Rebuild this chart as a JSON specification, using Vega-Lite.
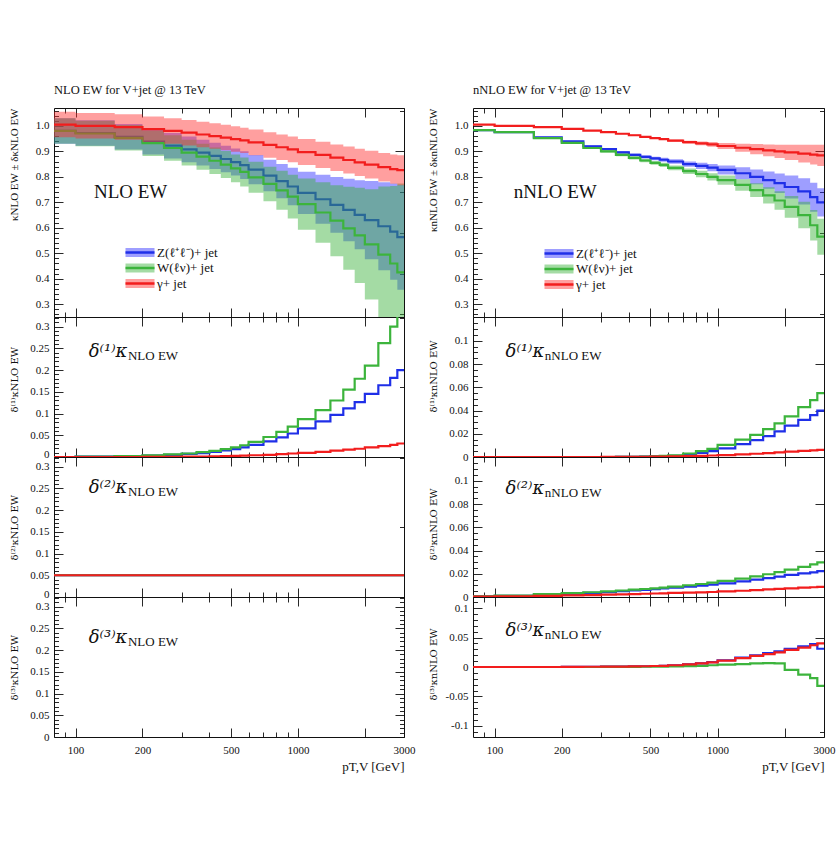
{
  "$schema": "https://vega.github.io/schema/vega-lite/v6.json",
  "background": "white",
  "padding": {"left": 7, "top": 83, "right": 5, "bottom": 5},
  "datasets": {
    "nlo": [
      {"p":"Z","x":80,"k":0.98,"lo":0.93,"hi":1.03,"d1":0,"d2":0.05},
      {"p":"Z","x":100,"k":0.972,"lo":0.922,"hi":1.022,"d1":0.001,"d2":0.05},
      {"p":"Z","x":150,"k":0.957,"lo":0.907,"hi":1.007,"d1":0.002,"d2":0.05},
      {"p":"Z","x":200,"k":0.938,"lo":0.888,"hi":0.988,"d1":0.003,"d2":0.05},
      {"p":"Z","x":250,"k":0.922,"lo":0.872,"hi":0.972,"d1":0.005,"d2":0.05},
      {"p":"Z","x":300,"k":0.908,"lo":0.8575,"hi":0.9585,"d1":0.007,"d2":0.05},
      {"p":"Z","x":350,"k":0.895,"lo":0.8442,"hi":0.9458,"d1":0.009,"d2":0.05},
      {"p":"Z","x":400,"k":0.882,"lo":0.8306,"hi":0.9334,"d1":0.012,"d2":0.05},
      {"p":"Z","x":450,"k":0.87,"lo":0.8178,"hi":0.9222,"d1":0.015,"d2":0.05},
      {"p":"Z","x":500,"k":0.858,"lo":0.8049,"hi":0.9111,"d1":0.018,"d2":0.05},
      {"p":"Z","x":550,"k":0.846,"lo":0.7914,"hi":0.9006,"d1":0.022,"d2":0.05},
      {"p":"Z","x":600,"k":0.828,"lo":0.7707,"hi":0.8853,"d1":0.028,"d2":0.05},
      {"p":"Z","x":700,"k":0.805,"lo":0.7434,"hi":0.8666,"d1":0.036,"d2":0.05},
      {"p":"Z","x":800,"k":0.783,"lo":0.7157,"hi":0.8503,"d1":0.045,"d2":0.05},
      {"p":"Z","x":900,"k":0.762,"lo":0.6884,"hi":0.8356,"d1":0.054,"d2":0.05},
      {"p":"Z","x":1000,"k":0.737,"lo":0.6542,"hi":0.8198,"d1":0.066,"d2":0.05},
      {"p":"Z","x":1200,"k":0.712,"lo":0.616,"hi":0.808,"d1":0.082,"d2":0.05},
      {"p":"Z","x":1400,"k":0.69,"lo":0.5809,"hi":0.7991,"d1":0.097,"d2":0.05},
      {"p":"Z","x":1600,"k":0.67,"lo":0.5473,"hi":0.7927,"d1":0.112,"d2":0.05},
      {"p":"Z","x":1800,"k":0.651,"lo":0.5154,"hi":0.7866,"d1":0.126,"d2":0.05},
      {"p":"Z","x":2000,"k":0.63,"lo":0.4766,"hi":0.7834,"d1":0.145,"d2":0.05},
      {"p":"Z","x":2300,"k":0.606,"lo":0.4336,"hi":0.7784,"d1":0.165,"d2":0.05},
      {"p":"Z","x":2600,"k":0.585,"lo":0.3963,"hi":0.7737,"d1":0.182,"d2":0.05},
      {"p":"Z","x":2800,"k":0.563,"lo":0.3568,"hi":0.7692,"d1":0.2,"d2":0.05},
      {"p":"Z","x":3000,"k":0.563,"lo":0.3568,"hi":0.7692,"d1":0.2,"d2":0.05},
      {"p":"W","x":80,"k":0.98,"lo":0.93,"hi":1.03,"d1":0,"d2":0.05},
      {"p":"W","x":100,"k":0.97,"lo":0.92,"hi":1.02,"d1":0.001,"d2":0.05},
      {"p":"W","x":150,"k":0.953,"lo":0.903,"hi":1.003,"d1":0.002,"d2":0.05},
      {"p":"W","x":200,"k":0.932,"lo":0.8818,"hi":0.9822,"d1":0.004,"d2":0.05},
      {"p":"W","x":250,"k":0.913,"lo":0.8626,"hi":0.9634,"d1":0.006,"d2":0.05},
      {"p":"W","x":300,"k":0.895,"lo":0.8444,"hi":0.9456,"d1":0.008,"d2":0.05},
      {"p":"W","x":350,"k":0.879,"lo":0.8278,"hi":0.9302,"d1":0.011,"d2":0.05},
      {"p":"W","x":400,"k":0.863,"lo":0.8111,"hi":0.9149,"d1":0.014,"d2":0.05},
      {"p":"W","x":450,"k":0.848,"lo":0.7949,"hi":0.9011,"d1":0.018,"d2":0.05},
      {"p":"W","x":500,"k":0.833,"lo":0.7784,"hi":0.8876,"d1":0.022,"d2":0.05},
      {"p":"W","x":550,"k":0.819,"lo":0.7622,"hi":0.8758,"d1":0.027,"d2":0.05},
      {"p":"W","x":600,"k":0.798,"lo":0.737,"hi":0.859,"d1":0.035,"d2":0.05},
      {"p":"W","x":700,"k":0.772,"lo":0.7041,"hi":0.8399,"d1":0.046,"d2":0.05},
      {"p":"W","x":800,"k":0.747,"lo":0.6704,"hi":0.8236,"d1":0.058,"d2":0.05},
      {"p":"W","x":900,"k":0.722,"lo":0.636,"hi":0.808,"d1":0.07,"d2":0.05},
      {"p":"W","x":1000,"k":0.693,"lo":0.5927,"hi":0.7933,"d1":0.087,"d2":0.05},
      {"p":"W","x":1200,"k":0.66,"lo":0.541,"hi":0.779,"d1":0.108,"d2":0.05},
      {"p":"W","x":1400,"k":0.628,"lo":0.4887,"hi":0.7673,"d1":0.13,"d2":0.05},
      {"p":"W","x":1600,"k":0.598,"lo":0.4351,"hi":0.7609,"d1":0.155,"d2":0.05},
      {"p":"W","x":1800,"k":0.57,"lo":0.3832,"hi":0.7568,"d1":0.18,"d2":0.05},
      {"p":"W","x":2000,"k":0.535,"lo":0.3191,"hi":0.7509,"d1":0.21,"d2":0.05},
      {"p":"W","x":2300,"k":0.495,"lo":0.2283,"hi":0.7617,"d1":0.262,"d2":0.05},
      {"p":"W","x":2600,"k":0.46,"lo":0.1559,"hi":0.7641,"d1":0.3,"d2":0.05},
      {"p":"W","x":2800,"k":0.425,"lo":0.0764,"hi":0.7736,"d1":0.345,"d2":0.05},
      {"p":"W","x":3000,"k":0.425,"lo":0.0764,"hi":0.7736,"d1":0.345,"d2":0.05},
      {"p":"γ","x":80,"k":1.005,"lo":0.955,"hi":1.055,"d1":0,"d2":0.05},
      {"p":"γ","x":100,"k":1.0,"lo":0.95,"hi":1.05,"d1":0,"d2":0.05},
      {"p":"γ","x":150,"k":0.995,"lo":0.945,"hi":1.045,"d1":0,"d2":0.05},
      {"p":"γ","x":200,"k":0.987,"lo":0.937,"hi":1.037,"d1":0.0003,"d2":0.05},
      {"p":"γ","x":250,"k":0.98,"lo":0.93,"hi":1.03,"d1":0.0005,"d2":0.05},
      {"p":"γ","x":300,"k":0.973,"lo":0.923,"hi":1.023,"d1":0.0008,"d2":0.05},
      {"p":"γ","x":350,"k":0.966,"lo":0.916,"hi":1.016,"d1":0.001,"d2":0.05},
      {"p":"γ","x":400,"k":0.96,"lo":0.91,"hi":1.01,"d1":0.0015,"d2":0.05},
      {"p":"γ","x":450,"k":0.954,"lo":0.904,"hi":1.004,"d1":0.002,"d2":0.05},
      {"p":"γ","x":500,"k":0.948,"lo":0.898,"hi":0.998,"d1":0.0025,"d2":0.05},
      {"p":"γ","x":550,"k":0.943,"lo":0.893,"hi":0.993,"d1":0.003,"d2":0.05},
      {"p":"γ","x":600,"k":0.935,"lo":0.8848,"hi":0.9852,"d1":0.004,"d2":0.05},
      {"p":"γ","x":700,"k":0.925,"lo":0.8748,"hi":0.9752,"d1":0.005,"d2":0.05},
      {"p":"γ","x":800,"k":0.916,"lo":0.8656,"hi":0.9664,"d1":0.0065,"d2":0.05},
      {"p":"γ","x":900,"k":0.908,"lo":0.8574,"hi":0.9586,"d1":0.008,"d2":0.05},
      {"p":"γ","x":1000,"k":0.897,"lo":0.8461,"hi":0.9479,"d1":0.0095,"d2":0.05},
      {"p":"γ","x":1200,"k":0.886,"lo":0.8346,"hi":0.9374,"d1":0.012,"d2":0.05},
      {"p":"γ","x":1400,"k":0.875,"lo":0.8229,"hi":0.9271,"d1":0.0145,"d2":0.05},
      {"p":"γ","x":1600,"k":0.866,"lo":0.8132,"hi":0.9188,"d1":0.017,"d2":0.05},
      {"p":"γ","x":1800,"k":0.857,"lo":0.8035,"hi":0.9105,"d1":0.019,"d2":0.05},
      {"p":"γ","x":2000,"k":0.848,"lo":0.7934,"hi":0.9026,"d1":0.022,"d2":0.05},
      {"p":"γ","x":2300,"k":0.838,"lo":0.7821,"hi":0.8939,"d1":0.025,"d2":0.05},
      {"p":"γ","x":2600,"k":0.83,"lo":0.7727,"hi":0.8873,"d1":0.028,"d2":0.05},
      {"p":"γ","x":2800,"k":0.826,"lo":0.7672,"hi":0.8848,"d1":0.031,"d2":0.05},
      {"p":"γ","x":3000,"k":0.826,"lo":0.7672,"hi":0.8848,"d1":0.031,"d2":0.05}
    ],
    "nnlo": [
      {"p":"Z","x":80,"k":0.983,"lo":0.9825,"hi":0.9835,"d1":0,"d2":0.0005,"d3":0},
      {"p":"Z","x":100,"k":0.975,"lo":0.974,"hi":0.976,"d1":0,"d2":0.001,"d3":0},
      {"p":"Z","x":150,"k":0.955,"lo":0.953,"hi":0.957,"d1":0,"d2":0.002,"d3":0},
      {"p":"Z","x":200,"k":0.939,"lo":0.9363,"hi":0.9417,"d1":0,"d2":0.0027,"d3":0.0002},
      {"p":"Z","x":250,"k":0.92,"lo":0.9165,"hi":0.9235,"d1":0,"d2":0.0035,"d3":0.0004},
      {"p":"Z","x":300,"k":0.909,"lo":0.9048,"hi":0.9132,"d1":0,"d2":0.0042,"d3":0.0006},
      {"p":"Z","x":350,"k":0.896,"lo":0.8909,"hi":0.9011,"d1":0.0001,"d2":0.005,"d3":0.0008},
      {"p":"Z","x":400,"k":0.886,"lo":0.8803,"hi":0.8917,"d1":0.0002,"d2":0.0056,"d3":0.001},
      {"p":"Z","x":450,"k":0.878,"lo":0.8716,"hi":0.8844,"d1":0.0003,"d2":0.0062,"d3":0.0013},
      {"p":"Z","x":500,"k":0.872,"lo":0.8649,"hi":0.8791,"d1":0.0005,"d2":0.0068,"d3":0.0017},
      {"p":"Z","x":550,"k":0.867,"lo":0.8594,"hi":0.8746,"d1":0.0007,"d2":0.0073,"d3":0.002},
      {"p":"Z","x":600,"k":0.86,"lo":0.8513,"hi":0.8687,"d1":0.001,"d2":0.0081,"d3":0.003},
      {"p":"Z","x":700,"k":0.85,"lo":0.8397,"hi":0.8603,"d1":0.002,"d2":0.009,"d3":0.0046},
      {"p":"Z","x":800,"k":0.843,"lo":0.8309,"hi":0.8551,"d1":0.0035,"d2":0.0098,"d3":0.0062},
      {"p":"Z","x":900,"k":0.836,"lo":0.8216,"hi":0.8504,"d1":0.005,"d2":0.0106,"d3":0.0083},
      {"p":"Z","x":1000,"k":0.827,"lo":0.8092,"hi":0.8448,"d1":0.0075,"d2":0.0118,"d3":0.0115},
      {"p":"Z","x":1200,"k":0.814,"lo":0.7905,"hi":0.8375,"d1":0.011,"d2":0.0134,"d3":0.016},
      {"p":"Z","x":1400,"k":0.8,"lo":0.7713,"hi":0.8287,"d1":0.0145,"d2":0.015,"d3":0.02},
      {"p":"Z","x":1600,"k":0.787,"lo":0.7533,"hi":0.8207,"d1":0.018,"d2":0.0163,"d3":0.0235},
      {"p":"Z","x":1800,"k":0.775,"lo":0.7365,"hi":0.8135,"d1":0.022,"d2":0.0176,"d3":0.0265},
      {"p":"Z","x":2000,"k":0.76,"lo":0.7147,"hi":0.8053,"d1":0.027,"d2":0.019,"d3":0.031},
      {"p":"Z","x":2300,"k":0.743,"lo":0.6914,"hi":0.7946,"d1":0.032,"d2":0.0203,"d3":0.035},
      {"p":"Z","x":2600,"k":0.72,"lo":0.6628,"hi":0.7772,"d1":0.036,"d2":0.0212,"d3":0.039},
      {"p":"Z","x":2800,"k":0.7,"lo":0.6447,"hi":0.7553,"d1":0.04,"d2":0.0222,"d3":0.031},
      {"p":"Z","x":3000,"k":0.7,"lo":0.6447,"hi":0.7553,"d1":0.04,"d2":0.0222,"d3":0.031},
      {"p":"W","x":80,"k":0.983,"lo":0.9824,"hi":0.9836,"d1":0,"d2":0.0006,"d3":0},
      {"p":"W","x":100,"k":0.975,"lo":0.9738,"hi":0.9762,"d1":0,"d2":0.0012,"d3":0},
      {"p":"W","x":150,"k":0.952,"lo":0.9496,"hi":0.9544,"d1":0,"d2":0.0024,"d3":0},
      {"p":"W","x":200,"k":0.933,"lo":0.9297,"hi":0.9363,"d1":0,"d2":0.0033,"d3":0},
      {"p":"W","x":250,"k":0.913,"lo":0.9089,"hi":0.9171,"d1":0,"d2":0.0041,"d3":0},
      {"p":"W","x":300,"k":0.9,"lo":0.8951,"hi":0.9049,"d1":0,"d2":0.0049,"d3":0.0001},
      {"p":"W","x":350,"k":0.886,"lo":0.8804,"hi":0.8916,"d1":0.0001,"d2":0.0056,"d3":0.0002},
      {"p":"W","x":400,"k":0.874,"lo":0.8677,"hi":0.8803,"d1":0.0002,"d2":0.0063,"d3":0.0003},
      {"p":"W","x":450,"k":0.864,"lo":0.8571,"hi":0.8709,"d1":0.0004,"d2":0.0069,"d3":0.0004},
      {"p":"W","x":500,"k":0.855,"lo":0.8475,"hi":0.8625,"d1":0.0006,"d2":0.0075,"d3":0.0005},
      {"p":"W","x":550,"k":0.847,"lo":0.8388,"hi":0.8552,"d1":0.001,"d2":0.0081,"d3":0.0007},
      {"p":"W","x":600,"k":0.835,"lo":0.8258,"hi":0.8442,"d1":0.0015,"d2":0.009,"d3":0.001},
      {"p":"W","x":700,"k":0.822,"lo":0.8113,"hi":0.8327,"d1":0.003,"d2":0.0101,"d3":0.0015},
      {"p":"W","x":800,"k":0.811,"lo":0.7986,"hi":0.8234,"d1":0.005,"d2":0.0112,"d3":0.002},
      {"p":"W","x":900,"k":0.8,"lo":0.7856,"hi":0.8144,"d1":0.007,"d2":0.0123,"d3":0.003},
      {"p":"W","x":1000,"k":0.787,"lo":0.7692,"hi":0.8048,"d1":0.0105,"d2":0.0138,"d3":0.004},
      {"p":"W","x":1200,"k":0.768,"lo":0.7456,"hi":0.7904,"d1":0.015,"d2":0.0158,"d3":0.005},
      {"p":"W","x":1400,"k":0.748,"lo":0.7213,"hi":0.7747,"d1":0.019,"d2":0.0178,"d3":0.006},
      {"p":"W","x":1600,"k":0.727,"lo":0.6953,"hi":0.7587,"d1":0.024,"d2":0.0196,"d3":0.0065},
      {"p":"W","x":1800,"k":0.707,"lo":0.6705,"hi":0.7435,"d1":0.029,"d2":0.0214,"d3":0.006},
      {"p":"W","x":2000,"k":0.682,"lo":0.6395,"hi":0.7245,"d1":0.035,"d2":0.0236,"d3":-0.005},
      {"p":"W","x":2300,"k":0.65,"lo":0.5981,"hi":0.7019,"d1":0.043,"d2":0.026,"d3":-0.013},
      {"p":"W","x":2600,"k":0.61,"lo":0.5505,"hi":0.6695,"d1":0.049,"d2":0.028,"d3":-0.019},
      {"p":"W","x":2800,"k":0.565,"lo":0.4947,"hi":0.6353,"d1":0.055,"d2":0.0298,"d3":-0.032},
      {"p":"W","x":3000,"k":0.565,"lo":0.4947,"hi":0.6353,"d1":0.055,"d2":0.0298,"d3":-0.032},
      {"p":"γ","x":80,"k":1.005,"lo":1.0047,"hi":1.0053,"d1":0,"d2":0.0003,"d3":0},
      {"p":"γ","x":100,"k":1.0,"lo":0.9994,"hi":1.0006,"d1":0,"d2":0.0006,"d3":0},
      {"p":"γ","x":150,"k":0.995,"lo":0.994,"hi":0.996,"d1":0,"d2":0.001,"d3":0},
      {"p":"γ","x":200,"k":0.988,"lo":0.9866,"hi":0.9894,"d1":0,"d2":0.0014,"d3":0.0002},
      {"p":"γ","x":250,"k":0.981,"lo":0.9793,"hi":0.9827,"d1":0,"d2":0.0017,"d3":0.0004},
      {"p":"γ","x":300,"k":0.975,"lo":0.9729,"hi":0.9771,"d1":0.0001,"d2":0.002,"d3":0.0006},
      {"p":"γ","x":350,"k":0.969,"lo":0.9666,"hi":0.9714,"d1":0.0001,"d2":0.0023,"d3":0.0008},
      {"p":"γ","x":400,"k":0.963,"lo":0.9603,"hi":0.9657,"d1":0.0002,"d2":0.0025,"d3":0.001},
      {"p":"γ","x":450,"k":0.957,"lo":0.9539,"hi":0.9601,"d1":0.0002,"d2":0.0028,"d3":0.0013},
      {"p":"γ","x":500,"k":0.952,"lo":0.9485,"hi":0.9555,"d1":0.0003,"d2":0.003,"d3":0.0017},
      {"p":"γ","x":550,"k":0.948,"lo":0.9442,"hi":0.9518,"d1":0.0004,"d2":0.0032,"d3":0.002},
      {"p":"γ","x":600,"k":0.942,"lo":0.9374,"hi":0.9466,"d1":0.0006,"d2":0.0035,"d3":0.003},
      {"p":"γ","x":700,"k":0.936,"lo":0.9301,"hi":0.9419,"d1":0.0008,"d2":0.0038,"d3":0.0045},
      {"p":"γ","x":800,"k":0.931,"lo":0.9237,"hi":0.9383,"d1":0.001,"d2":0.004,"d3":0.006},
      {"p":"γ","x":900,"k":0.927,"lo":0.9178,"hi":0.9362,"d1":0.0013,"d2":0.0043,"d3":0.008},
      {"p":"γ","x":1000,"k":0.921,"lo":0.9089,"hi":0.9331,"d1":0.0017,"d2":0.0048,"d3":0.011},
      {"p":"γ","x":1200,"k":0.914,"lo":0.8979,"hi":0.9301,"d1":0.0022,"d2":0.0054,"d3":0.015},
      {"p":"γ","x":1400,"k":0.909,"lo":0.8889,"hi":0.9291,"d1":0.0028,"d2":0.006,"d3":0.019},
      {"p":"γ","x":1600,"k":0.904,"lo":0.8808,"hi":0.9272,"d1":0.0034,"d2":0.0065,"d3":0.022},
      {"p":"γ","x":1800,"k":0.9,"lo":0.8737,"hi":0.9263,"d1":0.004,"d2":0.007,"d3":0.025},
      {"p":"γ","x":2000,"k":0.896,"lo":0.8657,"hi":0.9263,"d1":0.0046,"d2":0.0075,"d3":0.029},
      {"p":"γ","x":2300,"k":0.891,"lo":0.8566,"hi":0.9254,"d1":0.0052,"d2":0.008,"d3":0.033},
      {"p":"γ","x":2600,"k":0.887,"lo":0.8486,"hi":0.9254,"d1":0.0057,"d2":0.0084,"d3":0.037},
      {"p":"γ","x":2800,"k":0.884,"lo":0.8426,"hi":0.9254,"d1":0.0062,"d2":0.0088,"d3":0.04},
      {"p":"γ","x":3000,"k":0.884,"lo":0.8426,"hi":0.9254,"d1":0.0062,"d2":0.0088,"d3":0.04}
    ]
  },
  "spacing": 10,
  "resolve": {"scale": {"x": "independent", "y": "independent", "fill": "independent", "stroke": "independent"}},
  "hconcat": [
    {
      "spacing": 0,
      "bounds": "flush",
      "resolve": {"scale": {"x": "independent", "y": "independent", "fill": "independent", "stroke": "independent"}},
      "vconcat": [
        {
          "width": 350, "height": 209,
          "title": {"text": "NLO EW for V+jet @ 13 TeV", "anchor": "start", "frame": "group", "offset": 8},
          "resolve": {"axis": {"x": "independent", "y": "independent"}},
          "layer": [
            {
              "data": {"name": "nlo"},
              "layer": [
                {"transform": [{"filter": {"field": "p", "equal": "Z"}}],
                 "mark": {"type": "area", "interpolate": "step-after", "opacity": 0.45, "clip": true},
                 "encoding": {
                   "x": {"field": "x", "type": "quantitative", "scale": {"type": "log", "domain": [80, 3000], "nice": false},
                         "axis": {"orient": "top", "values": [90,100,200,300,400,500,600,700,800,900,1000,2000,3000], "tickSize": {"condition": {"test": "indexof([100,200,500,1000,2000,3000],datum.value)>=0", "value": -9}, "value": -5}, "labels": false, "title": null}},
                   "y": {"field": "lo", "type": "quantitative", "scale": {"domain": [0.25, 1.07], "nice": false, "zero": false},
                         "axis": {"orient": "right", "values": [0.26,0.28,0.3,0.32,0.34,0.36,0.38,0.4,0.42,0.44,0.46,0.48,0.5,0.52,0.54,0.56,0.58,0.6,0.62,0.64,0.66,0.68,0.7,0.72,0.74,0.76,0.78,0.8,0.82,0.84,0.86,0.88,0.9,0.92,0.94,0.96,0.98,1,1.02,1.04,1.06],
                                  "tickSize": {"condition": {"test": "abs(datum.value*10-round(datum.value*10))<0.001", "value": -9}, "value": -4.5}, "labels": false, "title": null}},
                   "y2": {"field": "hi"},
                   "fill": {"field": "p", "type": "nominal", "scale": {"range": ["#35b035", "#2828ff", "#ff2a2a"]},
                            "legend": {"orient": "none", "legendX": 70, "legendY": 138, "title": null, "values": ["Z", "W", "γ"], "symbolType": "M-1,-0.9H4.8V0.9H-1Z", "symbolSize": 100, "symbolStrokeWidth": 0, "labelOffset": 20, "labelFontSize": 13, "rowPadding": 1.5, "padding": 0,
                                       "labelExpr": "datum.label == 'Z' ? 'Z(ℓ⁺ℓ⁻)+ jet' : datum.label == 'W' ? 'W(ℓν)+ jet' : 'γ+ jet'"}}
                 }},
                {"transform": [{"filter": "datum.p == 'Z'"}],
                 "mark": {"type": "line", "interpolate": "step-after", "strokeWidth": 2.2, "clip": true},
                 "encoding": {
                   "x": {"field": "x", "type": "quantitative", "scale": {"type": "log", "domain": [80, 3000], "nice": false}},
                   "y": {"field": "k", "type": "quantitative", "scale": {"domain": [0.25, 1.07], "nice": false, "zero": false}},
                   "stroke": {"field": "p", "type": "nominal", "scale": {"range": ["#3cb43c", "#1f2fe8", "#f21d1d"]},
                              "legend": {"orient": "none", "legendX": 70, "legendY": 138, "title": null, "values": ["Z", "W", "γ"], "symbolType": "M-1,0H4.8", "symbolSize": 100, "symbolStrokeWidth": 2.5, "labelOffset": 20, "labelFontSize": 13, "rowPadding": 1.5, "padding": 0, "labelExpr": "''"}}
                 }},
                {"transform": [{"filter": {"field": "p", "equal": "W"}}],
                 "mark": {"type": "area", "interpolate": "step-after", "opacity": 0.45, "clip": true},
                 "encoding": {
                   "x": {"field": "x", "type": "quantitative", "scale": {"type": "log", "domain": [80, 3000], "nice": false}},
                   "y": {"field": "lo", "type": "quantitative", "scale": {"domain": [0.25, 1.07], "nice": false, "zero": false}},
                   "y2": {"field": "hi"},
                   "fill": {"field": "p", "type": "nominal"}
                 }},
                {"transform": [{"filter": "datum.p == 'W'"}],
                 "mark": {"type": "line", "interpolate": "step-after", "strokeWidth": 2.2, "clip": true},
                 "encoding": {
                   "x": {"field": "x", "type": "quantitative", "scale": {"type": "log", "domain": [80, 3000], "nice": false}},
                   "y": {"field": "k", "type": "quantitative", "scale": {"domain": [0.25, 1.07], "nice": false, "zero": false}},
                   "stroke": {"field": "p", "type": "nominal"}
                 }},
                {"transform": [{"filter": {"field": "p", "equal": "γ"}}],
                 "mark": {"type": "area", "interpolate": "step-after", "opacity": 0.45, "clip": true},
                 "encoding": {
                   "x": {"field": "x", "type": "quantitative", "scale": {"type": "log", "domain": [80, 3000], "nice": false}},
                   "y": {"field": "lo", "type": "quantitative", "scale": {"domain": [0.25, 1.07], "nice": false, "zero": false}},
                   "y2": {"field": "hi"},
                   "fill": {"field": "p", "type": "nominal"}
                 }},
                {"transform": [{"filter": "datum.p == 'γ'"}],
                 "mark": {"type": "line", "interpolate": "step-after", "strokeWidth": 2.2, "clip": true},
                 "encoding": {
                   "x": {"field": "x", "type": "quantitative", "scale": {"type": "log", "domain": [80, 3000], "nice": false}},
                   "y": {"field": "k", "type": "quantitative", "scale": {"domain": [0.25, 1.07], "nice": false, "zero": false}},
                   "stroke": {"field": "p", "type": "nominal"}
                 }}
              ]
            },
            {
              "data": {"values": [{}]},
              "mark": {"type": "text", "align": "left", "baseline": "alphabetic", "fontSize": 19},
              "encoding": {
                "x": {"datum": 121, "type": "quantitative", "scale": {"type": "log", "domain": [80, 3000], "nice": false},
                      "axis": {"orient": "bottom", "values": [90,100,200,300,400,500,600,700,800,900,1000,2000,3000], "tickSize": {"condition": {"test": "indexof([100,200,500,1000,2000,3000],datum.value)>=0", "value": -9}, "value": -5}, "labels": false, "title": null}},
                "y": {"datum": 0.716, "type": "quantitative", "scale": {"domain": [0.25, 1.07], "nice": false, "zero": false},
                      "axis": {"orient": "left", "values": [0.26,0.28,0.3,0.32,0.34,0.36,0.38,0.4,0.42,0.44,0.46,0.48,0.5,0.52,0.54,0.56,0.58,0.6,0.62,0.64,0.66,0.68,0.7,0.72,0.74,0.76,0.78,0.8,0.82,0.84,0.86,0.88,0.9,0.92,0.94,0.96,0.98,1,1.02,1.04,1.06],
                               "tickSize": {"condition": {"test": "abs(datum.value*10-round(datum.value*10))<0.001", "value": -9}, "value": -4.5},
                               "format": ".1f", "labelExpr": "abs(datum.value*10-round(datum.value*10))<0.001 ? datum.label : ''", "labelOverlap": false,
                               "labelPadding": 14, "title": "κNLO EW ± δκNLO EW", "titleAnchor": "end", "titleFontSize": 11, "titleX": -35, "titleBaseline": "bottom"}},
                "text": {"value": "NLO EW"}
              }
            }
          ]
        },
        {
          "width": 350, "height": 140,
          "resolve": {"axis": {"x": "independent", "y": "independent"}},
          "layer": [
            {
              "data": {"name": "nlo"},
              "layer": [
                {"transform": [{"filter": "datum.p == 'Z'"}],
                 "mark": {"type": "line", "interpolate": "step-after", "strokeWidth": 2.2, "clip": true},
                 "encoding": {
                   "x": {"field": "x", "type": "quantitative", "scale": {"type": "log", "domain": [80, 3000], "nice": false},
                         "axis": {"orient": "top", "values": [90,100,200,300,400,500,600,700,800,900,1000,2000,3000], "tickSize": {"condition": {"test": "indexof([100,200,500,1000,2000,3000],datum.value)>=0", "value": -9}, "value": -5}, "labels": false, "title": null}},
                   "y": {"field": "d1", "type": "quantitative", "scale": {"domain": [0, 0.322], "nice": false, "zero": false},
                         "axis": {"orient": "right", "values": [0,0.01,0.02,0.03,0.04,0.05,0.06,0.07,0.08,0.09,0.1,0.11,0.12,0.13,0.14,0.15,0.16,0.17,0.18,0.19,0.2,0.21,0.22,0.23,0.24,0.25,0.26,0.27,0.28,0.29,0.3,0.31,0.32],
                                  "tickSize": {"condition": {"test": "abs(datum.value*20-round(datum.value*20))<0.001", "value": -9}, "value": -4.5}, "labels": false, "title": null}},
                   "stroke": {"field": "p", "type": "nominal", "scale": {"range": ["#3cb43c", "#1f2fe8", "#f21d1d"]}, "legend": null}
                 }},
                {"transform": [{"filter": "datum.p == 'W'"}],
                 "mark": {"type": "line", "interpolate": "step-after", "strokeWidth": 2.2, "clip": true},
                 "encoding": {
                   "x": {"field": "x", "type": "quantitative", "scale": {"type": "log", "domain": [80, 3000], "nice": false}},
                   "y": {"field": "d1", "type": "quantitative", "scale": {"domain": [0, 0.322], "nice": false, "zero": false}},
                   "stroke": {"field": "p", "type": "nominal", "legend": null}
                 }},
                {"transform": [{"filter": "datum.p == 'γ'"}],
                 "mark": {"type": "line", "interpolate": "step-after", "strokeWidth": 2.2, "clip": true},
                 "encoding": {
                   "x": {"field": "x", "type": "quantitative", "scale": {"type": "log", "domain": [80, 3000], "nice": false}},
                   "y": {"field": "d1", "type": "quantitative", "scale": {"domain": [0, 0.322], "nice": false, "zero": false}},
                   "stroke": {"field": "p", "type": "nominal", "legend": null}
                 }}
              ]
            },
            {"data": {"values": [{}]},
             "mark": {"type": "text", "align": "right", "baseline": "alphabetic", "fontSize": 18, "fontStyle": "italic", "font": "DejaVu Serif"},
             "encoding": {
               "x": {"datum": 171, "type": "quantitative", "scale": {"type": "log", "domain": [80, 3000], "nice": false},
                     "axis": {"orient": "bottom", "values": [90,100,200,300,400,500,600,700,800,900,1000,2000,3000], "tickSize": {"condition": {"test": "indexof([100,200,500,1000,2000,3000],datum.value)>=0", "value": -9}, "value": -5}, "labels": false, "title": null}},
               "y": {"datum": 0.231, "type": "quantitative", "scale": {"domain": [0, 0.322], "nice": false, "zero": false},
                     "axis": {"orient": "left", "values": [0,0.01,0.02,0.03,0.04,0.05,0.06,0.07,0.08,0.09,0.1,0.11,0.12,0.13,0.14,0.15,0.16,0.17,0.18,0.19,0.2,0.21,0.22,0.23,0.24,0.25,0.26,0.27,0.28,0.29,0.3,0.31,0.32],
                              "tickSize": {"condition": {"test": "abs(datum.value*20-round(datum.value*20))<0.001", "value": -9}, "value": -4.5},
                              "labelOffset": {"condition": {"test": "datum.value == 0", "value": -3}, "value": 0},
                              "format": "~g", "labelExpr": "abs(datum.value*20-round(datum.value*20))<0.001 ? datum.label : ''", "labelOverlap": false,
                              "labelPadding": 14, "title": "δ⁽¹⁾κNLO EW", "titleFont": "DejaVu Serif", "titleFontSize": 10, "titleX": -35, "titleY": 95, "titleAlign": "left", "titleBaseline": "bottom"}},
               "text": {"value": "δ⁽¹⁾κ"}
             }},
            {"data": {"values": [{}]},
             "mark": {"type": "text", "align": "left", "baseline": "alphabetic", "fontSize": 13, "dy": 3},
             "encoding": {
               "x": {"datum": 172, "type": "quantitative", "scale": {"type": "log", "domain": [80, 3000], "nice": false}, "axis": null},
               "y": {"datum": 0.231, "type": "quantitative", "scale": {"domain": [0, 0.322], "nice": false, "zero": false}, "axis": null},
               "text": {"value": "NLO EW"}
             }}
          ]
        },
        {
          "width": 350, "height": 140,
          "resolve": {"axis": {"x": "independent", "y": "independent"}},
          "layer": [
            {
              "data": {"name": "nlo"},
              "layer": [
                {"transform": [{"filter": "datum.p == 'Z'"}],
                 "mark": {"type": "line", "interpolate": "step-after", "strokeWidth": 2.2, "clip": true},
                 "encoding": {
                   "x": {"field": "x", "type": "quantitative", "scale": {"type": "log", "domain": [80, 3000], "nice": false},
                         "axis": {"orient": "top", "values": [90,100,200,300,400,500,600,700,800,900,1000,2000,3000], "tickSize": {"condition": {"test": "indexof([100,200,500,1000,2000,3000],datum.value)>=0", "value": -9}, "value": -5}, "labels": false, "title": null}},
                   "y": {"field": "d2", "type": "quantitative", "scale": {"domain": [0, 0.322], "nice": false, "zero": false},
                         "axis": {"orient": "right", "values": [0,0.01,0.02,0.03,0.04,0.05,0.06,0.07,0.08,0.09,0.1,0.11,0.12,0.13,0.14,0.15,0.16,0.17,0.18,0.19,0.2,0.21,0.22,0.23,0.24,0.25,0.26,0.27,0.28,0.29,0.3,0.31,0.32],
                                  "tickSize": {"condition": {"test": "abs(datum.value*20-round(datum.value*20))<0.001", "value": -9}, "value": -4.5}, "labels": false, "title": null}},
                   "stroke": {"field": "p", "type": "nominal", "scale": {"range": ["#3cb43c", "#1f2fe8", "#f21d1d"]}, "legend": null}
                 }},
                {"transform": [{"filter": "datum.p == 'W'"}],
                 "mark": {"type": "line", "interpolate": "step-after", "strokeWidth": 2.2, "clip": true},
                 "encoding": {
                   "x": {"field": "x", "type": "quantitative", "scale": {"type": "log", "domain": [80, 3000], "nice": false}},
                   "y": {"field": "d2", "type": "quantitative", "scale": {"domain": [0, 0.322], "nice": false, "zero": false}},
                   "stroke": {"field": "p", "type": "nominal", "legend": null}
                 }},
                {"transform": [{"filter": "datum.p == 'γ'"}],
                 "mark": {"type": "line", "interpolate": "step-after", "strokeWidth": 2.2, "clip": true},
                 "encoding": {
                   "x": {"field": "x", "type": "quantitative", "scale": {"type": "log", "domain": [80, 3000], "nice": false}},
                   "y": {"field": "d2", "type": "quantitative", "scale": {"domain": [0, 0.322], "nice": false, "zero": false}},
                   "stroke": {"field": "p", "type": "nominal", "legend": null}
                 }}
              ]
            },
            {"data": {"values": [{}]},
             "mark": {"type": "text", "align": "right", "baseline": "alphabetic", "fontSize": 18, "fontStyle": "italic", "font": "DejaVu Serif"},
             "encoding": {
               "x": {"datum": 171, "type": "quantitative", "scale": {"type": "log", "domain": [80, 3000], "nice": false},
                     "axis": {"orient": "bottom", "values": [90,100,200,300,400,500,600,700,800,900,1000,2000,3000], "tickSize": {"condition": {"test": "indexof([100,200,500,1000,2000,3000],datum.value)>=0", "value": -9}, "value": -5}, "labels": false, "title": null}},
               "y": {"datum": 0.239, "type": "quantitative", "scale": {"domain": [0, 0.322], "nice": false, "zero": false},
                     "axis": {"orient": "left", "values": [0,0.01,0.02,0.03,0.04,0.05,0.06,0.07,0.08,0.09,0.1,0.11,0.12,0.13,0.14,0.15,0.16,0.17,0.18,0.19,0.2,0.21,0.22,0.23,0.24,0.25,0.26,0.27,0.28,0.29,0.3,0.31,0.32],
                              "tickSize": {"condition": {"test": "abs(datum.value*20-round(datum.value*20))<0.001", "value": -9}, "value": -4.5},
                              "labelOffset": {"condition": {"test": "datum.value == 0", "value": -3}, "value": 0},
                              "format": "~g", "labelExpr": "abs(datum.value*20-round(datum.value*20))<0.001 ? datum.label : ''", "labelOverlap": false,
                              "labelPadding": 14, "title": "δ⁽²⁾κNLO EW", "titleFont": "DejaVu Serif", "titleFontSize": 10, "titleX": -35, "titleY": 103, "titleAlign": "left", "titleBaseline": "bottom"}},
               "text": {"value": "δ⁽²⁾κ"}
             }},
            {"data": {"values": [{}]},
             "mark": {"type": "text", "align": "left", "baseline": "alphabetic", "fontSize": 13, "dy": 3},
             "encoding": {
               "x": {"datum": 172, "type": "quantitative", "scale": {"type": "log", "domain": [80, 3000], "nice": false}, "axis": null},
               "y": {"datum": 0.239, "type": "quantitative", "scale": {"domain": [0, 0.322], "nice": false, "zero": false}, "axis": null},
               "text": {"value": "NLO EW"}
             }}
          ]
        },
        {
          "width": 350, "height": 140,
          "resolve": {"axis": {"x": "independent", "y": "independent"}},
          "data": {"values": [{}]},
          "layer": [
            {"mark": {"type": "text", "align": "right", "baseline": "alphabetic", "fontSize": 18, "fontStyle": "italic", "font": "DejaVu Serif"},
             "encoding": {
               "x": {"datum": 171, "type": "quantitative", "scale": {"type": "log", "domain": [80, 3000], "nice": false},
                     "axis": {"orient": "bottom", "values": [90,100,200,300,400,500,600,700,800,900,1000,2000,3000], "tickSize": {"condition": {"test": "indexof([100,200,500,1000,2000,3000],datum.value)>=0", "value": -9}, "value": -5},
                              "format": "d", "labelExpr": "indexof([100,200,500,1000,3000],datum.value)>=0 ? datum.label : ''", "labelOverlap": false, "labelPadding": 16,
                              "title": "pT,V [GeV]", "titleAnchor": "end", "titleFontSize": 13, "titlePadding": 1}},
               "y": {"datum": 0.216, "type": "quantitative", "scale": {"domain": [0, 0.322], "nice": false, "zero": false},
                     "axis": {"orient": "left", "values": [0,0.01,0.02,0.03,0.04,0.05,0.06,0.07,0.08,0.09,0.1,0.11,0.12,0.13,0.14,0.15,0.16,0.17,0.18,0.19,0.2,0.21,0.22,0.23,0.24,0.25,0.26,0.27,0.28,0.29,0.3,0.31,0.32],
                              "tickSize": {"condition": {"test": "abs(datum.value*20-round(datum.value*20))<0.001", "value": -9}, "value": -4.5},
                              "format": "~g", "labelExpr": "abs(datum.value*20-round(datum.value*20))<0.001 ? datum.label : ''", "labelOverlap": false,
                              "labelPadding": 14, "title": "δ⁽³⁾κNLO EW", "titleFont": "DejaVu Serif", "titleFontSize": 10, "titleX": -35, "titleY": 103, "titleAlign": "left", "titleBaseline": "bottom"}},
               "text": {"value": "δ⁽³⁾κ"}
             }},
            {"mark": {"type": "text", "align": "left", "baseline": "alphabetic", "fontSize": 13, "dy": 3},
             "encoding": {
               "x": {"datum": 172, "type": "quantitative", "scale": {"type": "log", "domain": [80, 3000], "nice": false},
                     "axis": {"orient": "top", "values": [90,100,200,300,400,500,600,700,800,900,1000,2000,3000], "tickSize": {"condition": {"test": "indexof([100,200,500,1000,2000,3000],datum.value)>=0", "value": -9}, "value": -5}, "labels": false, "title": null}},
               "y": {"datum": 0.216, "type": "quantitative", "scale": {"domain": [0, 0.322], "nice": false, "zero": false},
                     "axis": {"orient": "right", "values": [0,0.01,0.02,0.03,0.04,0.05,0.06,0.07,0.08,0.09,0.1,0.11,0.12,0.13,0.14,0.15,0.16,0.17,0.18,0.19,0.2,0.21,0.22,0.23,0.24,0.25,0.26,0.27,0.28,0.29,0.3,0.31,0.32],
                              "tickSize": {"condition": {"test": "abs(datum.value*20-round(datum.value*20))<0.001", "value": -9}, "value": -4.5}, "labels": false, "title": null}},
               "text": {"value": "NLO EW"}
             }}
          ]
        }
      ]
    },
    {
      "spacing": 0,
      "bounds": "flush",
      "resolve": {"scale": {"x": "independent", "y": "independent", "fill": "independent", "stroke": "independent"}},
      "vconcat": [
        {
          "width": 351, "height": 209,
          "title": {"text": "nNLO EW for V+jet @ 13 TeV", "anchor": "start", "frame": "group", "offset": 8},
          "resolve": {"axis": {"x": "independent", "y": "independent"}},
          "layer": [
            {
              "data": {"name": "nnlo"},
              "layer": [
                {"transform": [{"filter": {"field": "p", "equal": "Z"}}],
                 "mark": {"type": "area", "interpolate": "step-after", "opacity": 0.45, "clip": true},
                 "encoding": {
                   "x": {"field": "x", "type": "quantitative", "scale": {"type": "log", "domain": [80, 3000], "nice": false},
                         "axis": {"orient": "top", "values": [90,100,200,300,400,500,600,700,800,900,1000,2000,3000], "tickSize": {"condition": {"test": "indexof([100,200,500,1000,2000,3000],datum.value)>=0", "value": -9}, "value": -5}, "labels": false, "title": null}},
                   "y": {"field": "lo", "type": "quantitative", "scale": {"domain": [0.25, 1.07], "nice": false, "zero": false},
                         "axis": {"orient": "right", "values": [0.26,0.28,0.3,0.32,0.34,0.36,0.38,0.4,0.42,0.44,0.46,0.48,0.5,0.52,0.54,0.56,0.58,0.6,0.62,0.64,0.66,0.68,0.7,0.72,0.74,0.76,0.78,0.8,0.82,0.84,0.86,0.88,0.9,0.92,0.94,0.96,0.98,1,1.02,1.04,1.06],
                                  "tickSize": {"condition": {"test": "abs(datum.value*10-round(datum.value*10))<0.001", "value": -9}, "value": -4.5}, "labels": false, "title": null}},
                   "y2": {"field": "hi"},
                   "fill": {"field": "p", "type": "nominal", "scale": {"range": ["#35b035", "#2828ff", "#ff2a2a"]},
                            "legend": {"orient": "none", "legendX": 70, "legendY": 139, "title": null, "values": ["Z", "W", "γ"], "symbolType": "M-1,-0.9H4.8V0.9H-1Z", "symbolSize": 100, "symbolStrokeWidth": 0, "labelOffset": 20, "labelFontSize": 13, "rowPadding": 1.5, "padding": 0,
                                       "labelExpr": "datum.label == 'Z' ? 'Z(ℓ⁺ℓ⁻)+ jet' : datum.label == 'W' ? 'W(ℓν)+ jet' : 'γ+ jet'"}}
                 }},
                {"transform": [{"filter": "datum.p == 'Z'"}],
                 "mark": {"type": "line", "interpolate": "step-after", "strokeWidth": 2.2, "clip": true},
                 "encoding": {
                   "x": {"field": "x", "type": "quantitative", "scale": {"type": "log", "domain": [80, 3000], "nice": false}},
                   "y": {"field": "k", "type": "quantitative", "scale": {"domain": [0.25, 1.07], "nice": false, "zero": false}},
                   "stroke": {"field": "p", "type": "nominal", "scale": {"range": ["#3cb43c", "#1f2fe8", "#f21d1d"]},
                              "legend": {"orient": "none", "legendX": 70, "legendY": 139, "title": null, "values": ["Z", "W", "γ"], "symbolType": "M-1,0H4.8", "symbolSize": 100, "symbolStrokeWidth": 2.5, "labelOffset": 20, "labelFontSize": 13, "rowPadding": 1.5, "padding": 0, "labelExpr": "''"}}
                 }},
                {"transform": [{"filter": {"field": "p", "equal": "W"}}],
                 "mark": {"type": "area", "interpolate": "step-after", "opacity": 0.45, "clip": true},
                 "encoding": {
                   "x": {"field": "x", "type": "quantitative", "scale": {"type": "log", "domain": [80, 3000], "nice": false}},
                   "y": {"field": "lo", "type": "quantitative", "scale": {"domain": [0.25, 1.07], "nice": false, "zero": false}},
                   "y2": {"field": "hi"},
                   "fill": {"field": "p", "type": "nominal"}
                 }},
                {"transform": [{"filter": "datum.p == 'W'"}],
                 "mark": {"type": "line", "interpolate": "step-after", "strokeWidth": 2.2, "clip": true},
                 "encoding": {
                   "x": {"field": "x", "type": "quantitative", "scale": {"type": "log", "domain": [80, 3000], "nice": false}},
                   "y": {"field": "k", "type": "quantitative", "scale": {"domain": [0.25, 1.07], "nice": false, "zero": false}},
                   "stroke": {"field": "p", "type": "nominal"}
                 }},
                {"transform": [{"filter": {"field": "p", "equal": "γ"}}],
                 "mark": {"type": "area", "interpolate": "step-after", "opacity": 0.45, "clip": true},
                 "encoding": {
                   "x": {"field": "x", "type": "quantitative", "scale": {"type": "log", "domain": [80, 3000], "nice": false}},
                   "y": {"field": "lo", "type": "quantitative", "scale": {"domain": [0.25, 1.07], "nice": false, "zero": false}},
                   "y2": {"field": "hi"},
                   "fill": {"field": "p", "type": "nominal"}
                 }},
                {"transform": [{"filter": "datum.p == 'γ'"}],
                 "mark": {"type": "line", "interpolate": "step-after", "strokeWidth": 2.2, "clip": true},
                 "encoding": {
                   "x": {"field": "x", "type": "quantitative", "scale": {"type": "log", "domain": [80, 3000], "nice": false}},
                   "y": {"field": "k", "type": "quantitative", "scale": {"domain": [0.25, 1.07], "nice": false, "zero": false}},
                   "stroke": {"field": "p", "type": "nominal"}
                 }}
              ]
            },
            {
              "data": {"values": [{}]},
              "mark": {"type": "text", "align": "left", "baseline": "alphabetic", "fontSize": 19},
              "encoding": {
                "x": {"datum": 122, "type": "quantitative", "scale": {"type": "log", "domain": [80, 3000], "nice": false},
                      "axis": {"orient": "bottom", "values": [90,100,200,300,400,500,600,700,800,900,1000,2000,3000], "tickSize": {"condition": {"test": "indexof([100,200,500,1000,2000,3000],datum.value)>=0", "value": -9}, "value": -5}, "labels": false, "title": null}},
                "y": {"datum": 0.716, "type": "quantitative", "scale": {"domain": [0.25, 1.07], "nice": false, "zero": false},
                      "axis": {"orient": "left", "values": [0.26,0.28,0.3,0.32,0.34,0.36,0.38,0.4,0.42,0.44,0.46,0.48,0.5,0.52,0.54,0.56,0.58,0.6,0.62,0.64,0.66,0.68,0.7,0.72,0.74,0.76,0.78,0.8,0.82,0.84,0.86,0.88,0.9,0.92,0.94,0.96,0.98,1,1.02,1.04,1.06],
                               "tickSize": {"condition": {"test": "abs(datum.value*10-round(datum.value*10))<0.001", "value": -9}, "value": -4.5},
                               "format": ".1f", "labelExpr": "abs(datum.value*10-round(datum.value*10))<0.001 ? datum.label : ''", "labelOverlap": false,
                               "labelPadding": 14, "title": "κnNLO EW ± δκnNLO EW", "titleAnchor": "end", "titleFontSize": 11, "titleX": -35, "titleBaseline": "bottom"}},
                "text": {"value": "nNLO EW"}
              }
            }
          ]
        },
        {
          "width": 351, "height": 140,
          "resolve": {"axis": {"x": "independent", "y": "independent"}},
          "layer": [
            {
              "data": {"name": "nnlo"},
              "layer": [
                {"transform": [{"filter": "datum.p == 'Z'"}],
                 "mark": {"type": "line", "interpolate": "step-after", "strokeWidth": 2.2, "clip": true},
                 "encoding": {
                   "x": {"field": "x", "type": "quantitative", "scale": {"type": "log", "domain": [80, 3000], "nice": false},
                         "axis": {"orient": "top", "values": [90,100,200,300,400,500,600,700,800,900,1000,2000,3000], "tickSize": {"condition": {"test": "indexof([100,200,500,1000,2000,3000],datum.value)>=0", "value": -9}, "value": -5}, "labels": false, "title": null}},
                   "y": {"field": "d1", "type": "quantitative", "scale": {"domain": [0, 0.1205], "nice": false, "zero": false},
                         "axis": {"orient": "right", "values": [0,0.005,0.01,0.015,0.02,0.025,0.03,0.035,0.04,0.045,0.05,0.055,0.06,0.065,0.07,0.075,0.08,0.085,0.09,0.095,0.1,0.105,0.11,0.115],
                                  "tickSize": {"condition": {"test": "abs(datum.value*50-round(datum.value*50))<0.001", "value": -9}, "value": -4.5}, "labels": false, "title": null}},
                   "stroke": {"field": "p", "type": "nominal", "scale": {"range": ["#3cb43c", "#1f2fe8", "#f21d1d"]}, "legend": null}
                 }},
                {"transform": [{"filter": "datum.p == 'W'"}],
                 "mark": {"type": "line", "interpolate": "step-after", "strokeWidth": 2.2, "clip": true},
                 "encoding": {
                   "x": {"field": "x", "type": "quantitative", "scale": {"type": "log", "domain": [80, 3000], "nice": false}},
                   "y": {"field": "d1", "type": "quantitative", "scale": {"domain": [0, 0.1205], "nice": false, "zero": false}},
                   "stroke": {"field": "p", "type": "nominal", "legend": null}
                 }},
                {"transform": [{"filter": "datum.p == 'γ'"}],
                 "mark": {"type": "line", "interpolate": "step-after", "strokeWidth": 2.2, "clip": true},
                 "encoding": {
                   "x": {"field": "x", "type": "quantitative", "scale": {"type": "log", "domain": [80, 3000], "nice": false}},
                   "y": {"field": "d1", "type": "quantitative", "scale": {"domain": [0, 0.1205], "nice": false, "zero": false}},
                   "stroke": {"field": "p", "type": "nominal", "legend": null}
                 }}
              ]
            },
            {"data": {"values": [{}]},
             "mark": {"type": "text", "align": "right", "baseline": "alphabetic", "fontSize": 18, "fontStyle": "italic", "font": "DejaVu Serif"},
             "encoding": {
               "x": {"datum": 167, "type": "quantitative", "scale": {"type": "log", "domain": [80, 3000], "nice": false},
                     "axis": {"orient": "bottom", "values": [90,100,200,300,400,500,600,700,800,900,1000,2000,3000], "tickSize": {"condition": {"test": "indexof([100,200,500,1000,2000,3000],datum.value)>=0", "value": -9}, "value": -5}, "labels": false, "title": null}},
               "y": {"datum": 0.0864, "type": "quantitative", "scale": {"domain": [0, 0.1205], "nice": false, "zero": false},
                     "axis": {"orient": "left", "values": [0,0.005,0.01,0.015,0.02,0.025,0.03,0.035,0.04,0.045,0.05,0.055,0.06,0.065,0.07,0.075,0.08,0.085,0.09,0.095,0.1,0.105,0.11,0.115],
                              "tickSize": {"condition": {"test": "abs(datum.value*50-round(datum.value*50))<0.001", "value": -9}, "value": -4.5},
                              "format": "~g", "labelExpr": "abs(datum.value*50-round(datum.value*50))<0.001 ? datum.label : ''", "labelOverlap": false,
                              "labelPadding": 14, "title": "δ⁽¹⁾κnNLO EW", "titleFont": "DejaVu Serif", "titleFontSize": 10, "titleX": -35, "titleY": 95, "titleAlign": "left", "titleBaseline": "bottom"}},
               "text": {"value": "δ⁽¹⁾κ"}
             }},
            {"data": {"values": [{}]},
             "mark": {"type": "text", "align": "left", "baseline": "alphabetic", "fontSize": 13, "dy": 3},
             "encoding": {
               "x": {"datum": 168, "type": "quantitative", "scale": {"type": "log", "domain": [80, 3000], "nice": false}, "axis": null},
               "y": {"datum": 0.0864, "type": "quantitative", "scale": {"domain": [0, 0.1205], "nice": false, "zero": false}, "axis": null},
               "text": {"value": "nNLO EW"}
             }}
          ]
        },
        {
          "width": 351, "height": 140,
          "resolve": {"axis": {"x": "independent", "y": "independent"}},
          "layer": [
            {
              "data": {"name": "nnlo"},
              "layer": [
                {"transform": [{"filter": "datum.p == 'Z'"}],
                 "mark": {"type": "line", "interpolate": "step-after", "strokeWidth": 2.2, "clip": true},
                 "encoding": {
                   "x": {"field": "x", "type": "quantitative", "scale": {"type": "log", "domain": [80, 3000], "nice": false},
                         "axis": {"orient": "top", "values": [90,100,200,300,400,500,600,700,800,900,1000,2000,3000], "tickSize": {"condition": {"test": "indexof([100,200,500,1000,2000,3000],datum.value)>=0", "value": -9}, "value": -5}, "labels": false, "title": null}},
                   "y": {"field": "d2", "type": "quantitative", "scale": {"domain": [0, 0.1205], "nice": false, "zero": false},
                         "axis": {"orient": "right", "values": [0,0.005,0.01,0.015,0.02,0.025,0.03,0.035,0.04,0.045,0.05,0.055,0.06,0.065,0.07,0.075,0.08,0.085,0.09,0.095,0.1,0.105,0.11,0.115],
                                  "tickSize": {"condition": {"test": "abs(datum.value*50-round(datum.value*50))<0.001", "value": -9}, "value": -4.5}, "labels": false, "title": null}},
                   "stroke": {"field": "p", "type": "nominal", "scale": {"range": ["#3cb43c", "#1f2fe8", "#f21d1d"]}, "legend": null}
                 }},
                {"transform": [{"filter": "datum.p == 'W'"}],
                 "mark": {"type": "line", "interpolate": "step-after", "strokeWidth": 2.2, "clip": true},
                 "encoding": {
                   "x": {"field": "x", "type": "quantitative", "scale": {"type": "log", "domain": [80, 3000], "nice": false}},
                   "y": {"field": "d2", "type": "quantitative", "scale": {"domain": [0, 0.1205], "nice": false, "zero": false}},
                   "stroke": {"field": "p", "type": "nominal", "legend": null}
                 }},
                {"transform": [{"filter": "datum.p == 'γ'"}],
                 "mark": {"type": "line", "interpolate": "step-after", "strokeWidth": 2.2, "clip": true},
                 "encoding": {
                   "x": {"field": "x", "type": "quantitative", "scale": {"type": "log", "domain": [80, 3000], "nice": false}},
                   "y": {"field": "d2", "type": "quantitative", "scale": {"domain": [0, 0.1205], "nice": false, "zero": false}},
                   "stroke": {"field": "p", "type": "nominal", "legend": null}
                 }}
              ]
            },
            {"data": {"values": [{}]},
             "mark": {"type": "text", "align": "right", "baseline": "alphabetic", "fontSize": 18, "fontStyle": "italic", "font": "DejaVu Serif"},
             "encoding": {
               "x": {"datum": 167, "type": "quantitative", "scale": {"type": "log", "domain": [80, 3000], "nice": false},
                     "axis": {"orient": "bottom", "values": [90,100,200,300,400,500,600,700,800,900,1000,2000,3000], "tickSize": {"condition": {"test": "indexof([100,200,500,1000,2000,3000],datum.value)>=0", "value": -9}, "value": -5}, "labels": false, "title": null}},
               "y": {"datum": 0.089, "type": "quantitative", "scale": {"domain": [0, 0.1205], "nice": false, "zero": false},
                     "axis": {"orient": "left", "values": [0,0.005,0.01,0.015,0.02,0.025,0.03,0.035,0.04,0.045,0.05,0.055,0.06,0.065,0.07,0.075,0.08,0.085,0.09,0.095,0.1,0.105,0.11,0.115],
                              "tickSize": {"condition": {"test": "abs(datum.value*50-round(datum.value*50))<0.001", "value": -9}, "value": -4.5},
                              "format": "~g", "labelExpr": "abs(datum.value*50-round(datum.value*50))<0.001 ? datum.label : ''", "labelOverlap": false,
                              "labelPadding": 14, "title": "δ⁽²⁾κnNLO EW", "titleFont": "DejaVu Serif", "titleFontSize": 10, "titleX": -35, "titleY": 103, "titleAlign": "left", "titleBaseline": "bottom"}},
               "text": {"value": "δ⁽²⁾κ"}
             }},
            {"data": {"values": [{}]},
             "mark": {"type": "text", "align": "left", "baseline": "alphabetic", "fontSize": 13, "dy": 3},
             "encoding": {
               "x": {"datum": 168, "type": "quantitative", "scale": {"type": "log", "domain": [80, 3000], "nice": false}, "axis": null},
               "y": {"datum": 0.089, "type": "quantitative", "scale": {"domain": [0, 0.1205], "nice": false, "zero": false}, "axis": null},
               "text": {"value": "nNLO EW"}
             }}
          ]
        },
        {
          "width": 351, "height": 140,
          "resolve": {"axis": {"x": "independent", "y": "independent"}},
          "layer": [
            {
              "data": {"name": "nnlo"},
              "layer": [
                {"transform": [{"filter": "datum.p == 'Z'"}],
                 "mark": {"type": "line", "interpolate": "step-after", "strokeWidth": 2.2, "clip": true},
                 "encoding": {
                   "x": {"field": "x", "type": "quantitative", "scale": {"type": "log", "domain": [80, 3000], "nice": false},
                         "axis": {"orient": "top", "values": [90,100,200,300,400,500,600,700,800,900,1000,2000,3000], "tickSize": {"condition": {"test": "indexof([100,200,500,1000,2000,3000],datum.value)>=0", "value": -9}, "value": -5}, "labels": false, "title": null}},
                   "y": {"field": "d3", "type": "quantitative", "scale": {"domain": [-0.119, 0.119], "nice": false, "zero": false},
                         "axis": {"orient": "right", "values": [-0.11,-0.1,-0.09,-0.08,-0.07,-0.06,-0.05,-0.04,-0.03,-0.02,-0.01,0,0.01,0.02,0.03,0.04,0.05,0.06,0.07,0.08,0.09,0.1,0.11],
                                  "tickSize": {"condition": {"test": "abs(datum.value*20-round(datum.value*20))<0.001", "value": -9}, "value": -4.5}, "labels": false, "title": null}},
                   "stroke": {"field": "p", "type": "nominal", "scale": {"range": ["#3cb43c", "#1f2fe8", "#f21d1d"]}, "legend": null}
                 }},
                {"transform": [{"filter": "datum.p == 'W'"}],
                 "mark": {"type": "line", "interpolate": "step-after", "strokeWidth": 2.2, "clip": true},
                 "encoding": {
                   "x": {"field": "x", "type": "quantitative", "scale": {"type": "log", "domain": [80, 3000], "nice": false}},
                   "y": {"field": "d3", "type": "quantitative", "scale": {"domain": [-0.119, 0.119], "nice": false, "zero": false}},
                   "stroke": {"field": "p", "type": "nominal", "legend": null}
                 }},
                {"transform": [{"filter": "datum.p == 'γ'"}],
                 "mark": {"type": "line", "interpolate": "step-after", "strokeWidth": 2.2, "clip": true},
                 "encoding": {
                   "x": {"field": "x", "type": "quantitative", "scale": {"type": "log", "domain": [80, 3000], "nice": false}},
                   "y": {"field": "d3", "type": "quantitative", "scale": {"domain": [-0.119, 0.119], "nice": false, "zero": false}},
                   "stroke": {"field": "p", "type": "nominal", "legend": null}
                 }}
              ]
            },
            {"data": {"values": [{}]},
             "mark": {"type": "text", "align": "right", "baseline": "alphabetic", "fontSize": 18, "fontStyle": "italic", "font": "DejaVu Serif"},
             "encoding": {
               "x": {"datum": 167, "type": "quantitative", "scale": {"type": "log", "domain": [80, 3000], "nice": false},
                     "axis": {"orient": "bottom", "values": [90,100,200,300,400,500,600,700,800,900,1000,2000,3000], "tickSize": {"condition": {"test": "indexof([100,200,500,1000,2000,3000],datum.value)>=0", "value": -9}, "value": -5},
                              "format": "d", "labelExpr": "indexof([100,200,500,1000,3000],datum.value)>=0 ? datum.label : ''", "labelOverlap": false, "labelPadding": 16,
                              "title": "pT,V [GeV]", "titleAnchor": "end", "titleFontSize": 13, "titlePadding": 1}},
               "y": {"datum": 0.052, "type": "quantitative", "scale": {"domain": [-0.119, 0.119], "nice": false, "zero": false},
                     "axis": {"orient": "left", "values": [-0.11,-0.1,-0.09,-0.08,-0.07,-0.06,-0.05,-0.04,-0.03,-0.02,-0.01,0,0.01,0.02,0.03,0.04,0.05,0.06,0.07,0.08,0.09,0.1,0.11],
                              "tickSize": {"condition": {"test": "abs(datum.value*20-round(datum.value*20))<0.001", "value": -9}, "value": -4.5},
                              "format": "~g", "labelExpr": "abs(datum.value*20-round(datum.value*20))<0.001 ? replace(datum.label, '−', '-') : ''", "labelOverlap": false,
                              "labelPadding": 14, "title": "δ⁽³⁾κnNLO EW", "titleFont": "DejaVu Serif", "titleFontSize": 10, "titleX": -35, "titleY": 103, "titleAlign": "left", "titleBaseline": "bottom"}},
               "text": {"value": "δ⁽³⁾κ"}
             }},
            {"data": {"values": [{}]},
             "mark": {"type": "text", "align": "left", "baseline": "alphabetic", "fontSize": 13, "dy": 3},
             "encoding": {
               "x": {"datum": 168, "type": "quantitative", "scale": {"type": "log", "domain": [80, 3000], "nice": false}, "axis": null},
               "y": {"datum": 0.052, "type": "quantitative", "scale": {"domain": [-0.119, 0.119], "nice": false, "zero": false}, "axis": null},
               "text": {"value": "nNLO EW"}
             }}
          ]
        }
      ]
    }
  ],
  "config": {
    "font": "Liberation Serif",
    "view": {"stroke": "#111", "strokeWidth": 1},
    "axis": {"grid": false, "domain": false, "tickColor": "#111", "tickWidth": 0.9, "labelFont": "Liberation Serif", "labelFontSize": 11, "labelColor": "#111", "titleFont": "Liberation Serif", "titleFontWeight": "normal", "titleColor": "#111", "labelFlush": false, "labelOverlap": false, "labelBound": false},
    "title": {"font": "Liberation Serif", "fontWeight": "normal", "fontSize": 12.5, "color": "#111"},
    "legend": {"labelFont": "Liberation Serif", "labelColor": "#111"},
    "text": {"font": "Liberation Serif", "color": "#111"}
  }
}
